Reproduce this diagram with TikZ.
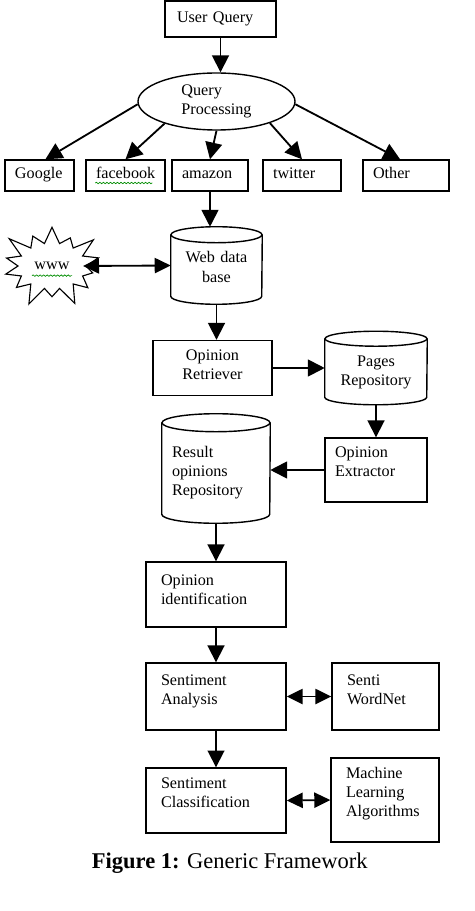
\documentclass[tikz,border=0pt]{standalone}
\usepackage{fontspec}
\setmainfont{Liberation Serif}
\usetikzlibrary{arrows.meta,shapes.geometric,shapes.symbols,decorations.pathmorphing}

\newlength\pu
\setlength\pu{0.025cm}

% drum outline round a text node: node, x radius, y radius (px)
\newcommand\drum[3]{%
  \draw[line width=1pt] ([yshift=-#3*0.025cm]#1.north west) -- ([yshift=#3*0.025cm]#1.south west)
    arc[start angle=180, end angle=360, x radius=#2*0.025cm, y radius=#3*0.025cm]
    -- ([yshift=-#3*0.025cm]#1.north east);
  \draw[line width=1pt] ([yshift=-#3*0.025cm]#1.north) ellipse[x radius=#2*0.025cm, y radius=#3*0.025cm];
}

\begin{document}
\begin{tikzpicture}[x=0.025cm, y=-0.025cm,
  every node/.style={font=\fontsize{11.5}{13.6}\selectfont},
  blk/.style={draw, rectangle, inner ysep=0pt, align=left, line width=1pt},
  drumtxt/.style={rectangle, inner ysep=0pt, align=center},
  dims/.style n args={4}{text width=#1\pu, inner xsep=#2\pu, text height=#3\pu, text depth=#4\pu},
  flow/.style={line width=1.3pt, -{Triangle[length=4.2mm, width=4.2mm]}},
  both/.style={line width=1.3pt, {Triangle[length=4mm, width=3.8mm]}-{Triangle[length=4mm, width=3.8mm]}},
  squiggle/.style={green!55!black, line width=0.5pt, decorate, decoration={snake, amplitude=0.5pt, segment length=2.5pt}}]

\useasboundingbox (0,0) rectangle (474,911);

% Query and sources
\node[blk, dims={87}{12}{22}{14}] (query) at (220.5,19) {User Query};
\node[draw, ellipse, minimum width=157\pu, minimum height=57\pu, inner sep=0pt, align=left, line width=1pt] (proc) at (216.5,101.5) {Query\\Processing};

\node[blk, dims={49}{10}{19}{12}] (google) at (39.5,175.5) {Google};
\node[blk, dims={59}{10}{19}{12}] (facebook) at (125.5,175.5) {facebook};
\node[blk, dims={56}{10}{19}{12}] (amazon) at (210,175.5) {amazon};
\node[blk, dims={58}{10}{19}{12}] (twitter) at (302,175.5) {twitter};
\node[blk, dims={66}{10}{19}{12}] (other) at (406,175.5) {Other};

\draw[flow] (query.south) -- (query.south |- proc.north);
\draw[flow] (proc.182) -- (google.70);
\draw[flow] (proc.203) -- (facebook.north);
\draw[flow] (proc.270) -- (amazon.north);
\draw[flow] (proc.338) -- (twitter.north);
\draw[flow] (proc.358) -- (other.110);

% Web data
\node[drumtxt, dims={83}{4}{36}{41}] (web) at (216.5,265.5) {Web data\\base};
\drum{web}{45.5}{8}
\node[starburst, draw, line width=0.8pt, minimum width=112\pu, minimum height=90\pu, starburst points=14, starburst point height=0.55cm] (www) at (52,266) {www};

\draw[flow] (amazon.south) -- (amazon.south |- web.north);
\draw[both] ([xshift=31\pu]www.center) -- (web.west);

% Opinion retrieval
\node[blk, align=center, dims={111}{4}{20}{35}] (retr) at (212.5,368) {Opinion\\Retriever};
\node[drumtxt, dims={94}{4}{35}{38}] (pages) at (376,368) {Pages\\Repository};
\drum{pages}{51}{7.5}
\node[blk, dims={82}{10}{19}{45}] (extr) at (376,470) {Opinion\\Extractor};
\node[drumtxt, align=left, dims={88}{10}{43}{66}] (result) at (216,468.5) {Result\\opinions\\Repository};
\drum{result}{54}{9}

\draw[flow] (web.south) -- (web.south |- retr.north);
\draw[flow] (retr) -- (pages);
\draw[flow] (pages.south) -- (pages.south |- extr.north);
\draw[flow] (extr.west) -- (extr.west -| result.east);

% Sentiment
\node[blk, dims={110}{15}{23}{42}] (ident) at (216,594.5) {Opinion\\identification};
\node[blk, dims={110}{15}{22}{45}] (sa) at (216,696.5) {Sentiment\\Analysis};
\node[blk, dims={77}{15}{22}{45}] (senti) at (385.5,696.5) {Senti\\WordNet};
\node[blk, dims={110}{15}{20}{45}] (sc) at (216,800.5) {Sentiment\\Classification};
\node[blk, dims={78}{15}{20}{64}] (ml) at (385,800) {Machine\\Learning\\Algorithms};

\draw[flow] (result.south) -- (result.south |- ident.north);
\draw[flow] (ident.south) -- (sa.north);
\draw[both] (sa.east) -- (senti.west);
\draw[flow] (sa.south) -- (sc.north);
\draw[both] (sc.east) -- (ml.west);

% spell-check marks
\draw[squiggle] ([xshift=10\pu, yshift=-4\pu]facebook.base west) -- ([xshift=67\pu, yshift=-4\pu]facebook.base west);
\draw[squiggle] ([xshift=-20\pu, yshift=-6\pu]www.base) -- ([xshift=20\pu, yshift=-6\pu]www.base);

% Caption
\node[anchor=base west, font=\fontsize{16}{19}\selectfont] (caption) at (87,868) {\textbf{Figure 1:} Generic Framework};

\end{tikzpicture}
\end{document}
